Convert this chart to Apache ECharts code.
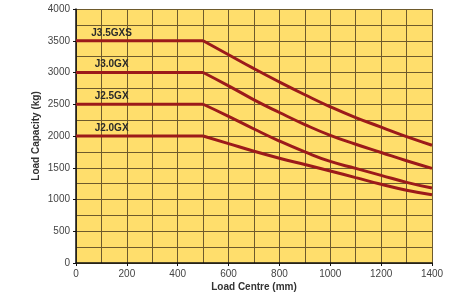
<!DOCTYPE html>
<html>
<head>
<meta charset="utf-8">
<title>Load Capacity</title>
<script src="https://cdn.jsdelivr.net/npm/echarts@6/dist/echarts.min.js"></script>
<style>
  html, body { margin: 0; padding: 0; background: #fff; }
  #main { width: 474px; height: 297px; }
</style>
</head>
<body>
<div id="main"></div>
<script type="text/javascript">
// load centre (mm) where values were read
var loadCentres = [0, 500, 600, 700, 800, 900, 1000, 1100, 1200, 1300, 1400];
var seriesNames = ['J3.5GXS', 'J3.0GX', 'J2.5GX', 'J2.0GX'];
var capJ35 = [3500, 3500, 3280, 3060, 2850, 2650, 2460, 2290, 2140, 1990, 1855];
var capJ30 = [3000, 3000, 2790, 2570, 2370, 2180, 2010, 1870, 1740, 1610, 1490];
var capJ25 = [2500, 2500, 2310, 2110, 1920, 1750, 1600, 1490, 1380, 1270, 1180];
var capJ20 = [2000, 2000, 1880, 1760, 1650, 1550, 1450, 1345, 1240, 1145, 1075];
var labelCentre = 140;

var myChart = echarts.init(document.getElementById('main'));

function pairs(ys, from, to) {
    var out = [];
    for (var i = from; i < to; i++) out.push([loadCentres[i], ys[i]]);
    return out;
}

var font = 'Liberation Sans, Arial, sans-serif';
var lineColor = '#9c1a1a';
var allCaps = [capJ35, capJ30, capJ25, capJ20];
var series = [];
allCaps.forEach(function (ys, k) {
    // flat part up to the rated load centre, with the model name above it
    series.push({
        name: seriesNames[k],
        type: 'line',
        showSymbol: false,
        data: pairs(ys, 0, 2),
        lineStyle: { color: lineColor, width: 3 },
        markPoint: {
            symbol: 'circle',
            symbolSize: 0,
            silent: true,
            data: [{ coord: [labelCentre, ys[0]] }],
            label: {
                show: true,
                position: 'top',
                distance: 3,
                formatter: seriesNames[k],
                color: '#2a2a2a',
                fontFamily: font,
                fontWeight: 'bold',
                fontSize: 10
            }
        }
    });
    // derated part beyond 500 mm
    series.push({
        name: seriesNames[k],
        type: 'line',
        smooth: 0.5,
        showSymbol: false,
        data: pairs(ys, 1, loadCentres.length),
        lineStyle: { color: lineColor, width: 3 }
    });
});

var plain = function (v) { return String(v); };

var option = {
    animation: false,
    grid: {
        left: 76, right: 42, top: 9, bottom: 32,
        show: true,
        backgroundColor: '#ffde6c',
        borderWidth: 0
    },
    xAxis: {
        type: 'value',
        min: 0, max: 1400, interval: 200,
        name: 'Load Centre (mm)',
        nameLocation: 'middle',
        nameGap: 19,
        nameMoveOverlap: false,
        nameTextStyle: { color: '#333', fontWeight: 'bold', fontSize: 10, fontFamily: font },
        axisLine: { show: true, lineStyle: { color: '#111', width: 1.5 } },
        axisTick: { show: true, length: 3, lineStyle: { color: '#111' } },
        axisLabel: { color: '#444', fontSize: 10, margin: 6, fontFamily: font, formatter: plain },
        splitLine: { show: true, lineStyle: { color: '#6e5a2c', width: 1 } },
        minorTick: { show: false, splitNumber: 2 },
        minorSplitLine: { show: true, lineStyle: { color: '#6e5a2c', width: 1 } }
    },
    yAxis: {
        type: 'value',
        min: 0, max: 4000, interval: 500,
        name: 'Load Capacity (kg)',
        nameLocation: 'middle',
        nameGap: 35,
        nameMoveOverlap: false,
        nameTextStyle: { color: '#333', fontWeight: 'bold', fontSize: 10, fontFamily: font },
        axisLine: { show: true, lineStyle: { color: '#111', width: 1.5 } },
        axisTick: { show: true, length: 3, lineStyle: { color: '#111' } },
        axisLabel: { color: '#444', fontSize: 10, margin: 6, fontFamily: font, formatter: plain },
        splitLine: { show: true, lineStyle: { color: '#6e5a2c', width: 1 } },
        minorTick: { show: false, splitNumber: 2 },
        minorSplitLine: { show: true, lineStyle: { color: '#6e5a2c', width: 1 } }
    },
    series: series
};

myChart.setOption(option);
</script>
</body>
</html>
